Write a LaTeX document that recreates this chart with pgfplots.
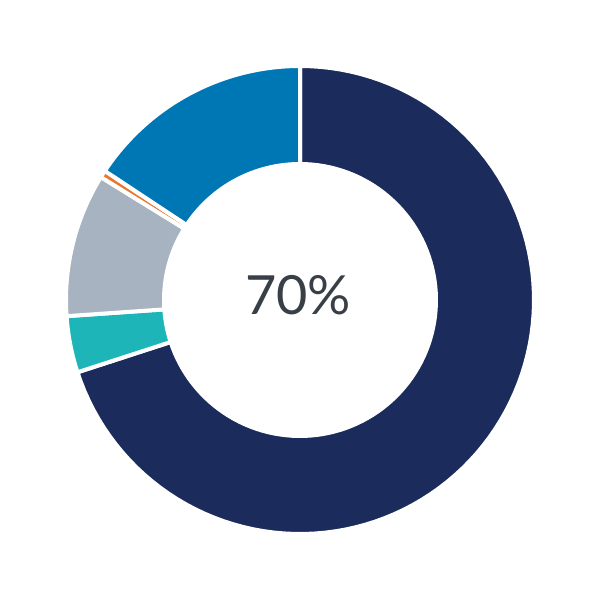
\documentclass[border=0pt]{standalone}
\usepackage{pgfplots}
\pgfplotsset{compat=1.18}
\usepackage{fontspec}
\setmainfont{Lato}
\definecolor{cNavy}{HTML}{1B2B5B}
\definecolor{cTeal}{HTML}{1EB5B8}
\definecolor{cGray}{HTML}{A8B3C1}
\definecolor{cOrange}{HTML}{E8772E}
\definecolor{cBlue}{HTML}{0077B5}
\definecolor{cText}{HTML}{383F47}
% sector: start percent, end percent, colour
\newcommand{\sector}[3]{%
  \addplot[fill=#3, draw=white, line width=2pt, line join=miter,
    domain=0:2, samples=201, variable=\t]
  ({((\t<1.005) ? 234 : 136)*sin(3.6*((\t<1.005) ? (#1+min(\t,1)*(#2-#1)) : (#2-max(\t-1.01,0)/0.99*(#2-#1))))},
   {((\t<1.005) ? 234 : 136)*cos(3.6*((\t<1.005) ? (#1+min(\t,1)*(#2-#1)) : (#2-max(\t-1.01,0)/0.99*(#2-#1))))})
  -- cycle;
}
\begin{document}
\begin{tikzpicture}
\useasboundingbox (0,0) rectangle (300pt,300pt);
\begin{axis}[
  hide axis, scale only axis,
  width=300pt, height=300pt,
  xmin=-300, xmax=300, ymin=-300, ymax=300,
  clip=false,
]
% cumulative percentages: navy 70, teal 4, gray 9.8, orange 0.5, blue 15.7
\sector{0}{70}{cNavy}
\sector{70}{73.9}{cTeal}
\sector{73.9}{83.8}{cGray}
\sector{83.8}{84.3}{cOrange}
\sector{84.3}{100}{cBlue}
\node[text=cText, font=\fontsize{27}{29}\selectfont] at (axis cs:-2,5) {70\%};
\end{axis}
\end{tikzpicture}
\end{document}
